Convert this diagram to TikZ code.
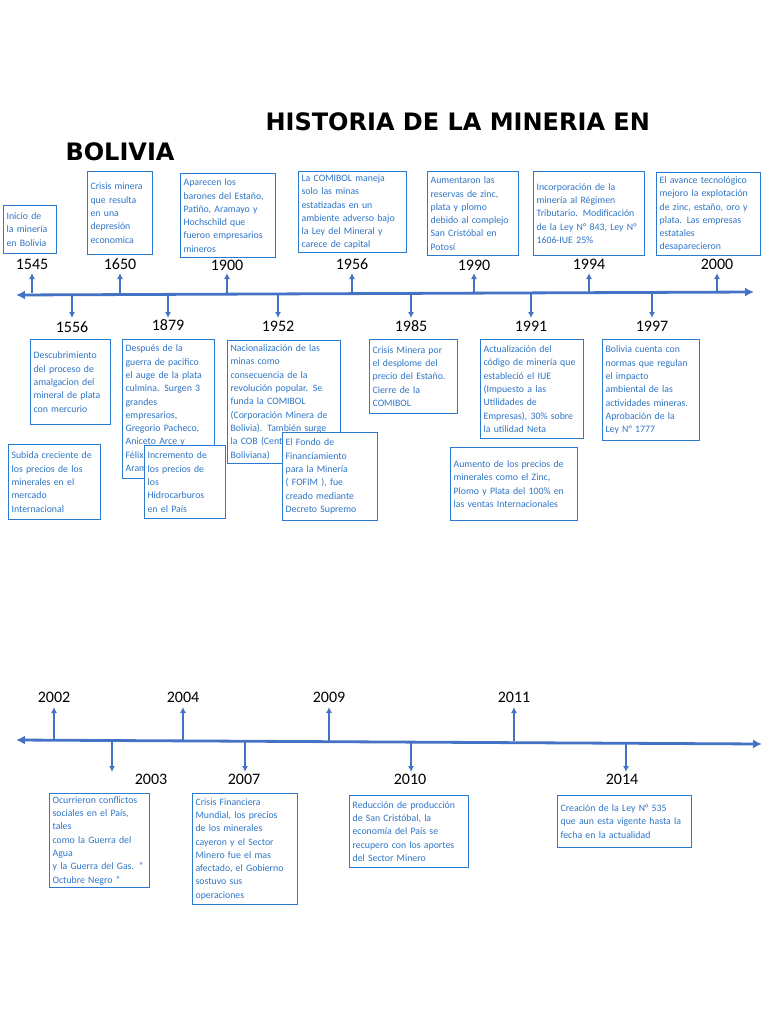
\documentclass[tikz,border=0pt]{standalone}
\usepackage{fontspec}
\setmainfont{Carlito}
\newfontfamily\titlefont{DejaVu Sans}
\usetikzlibrary{arrows.meta}
\definecolor{bxline}{HTML}{2A7BD0}
\definecolor{bxtext}{HTML}{2E75C6}
\definecolor{axis}{HTML}{4472C4}
\tikzset{
  bx/.style={draw=bxline,line width=1.2pt,fill=white,anchor=north west,align=left,
    inner sep=3pt,text=bxtext,font=\fontsize{9.8}{13.3}\selectfont,minimum height=#1},
  yr/.style={font=\fontsize{16}{16}\selectfont},
  tl/.style={draw=axis,line width=2.8pt,{Latex[length=9pt,width=9pt]}-{Latex[length=9pt,width=9pt]}},
  tk/.style={draw=axis,line width=1.5pt,-{Latex[length=6pt,width=6pt]}}
}
\begin{document}
\begin{tikzpicture}[x=1pt,y=-1pt]
\useasboundingbox (0,0) rectangle (768,1024);
\node[anchor=west,font=\titlefont\bfseries\fontsize{24}{24}\selectfont] (t1) at (262,122) {HISTORIA DE LA MINERIA EN};
\node[anchor=west,font=\titlefont\bfseries\fontsize{24}{24}\selectfont] (t2) at (62,152) {BOLIVIA};
% axis 1
\coordinate (a1l) at (16,295); \coordinate (a1r) at (754,292);
\draw[tl] (a1l) -- (a1r);
\foreach \x/\n/\yl in {32/1545/264,120/1650/264,227/1900/265,352/1956/264,474/1990/265,589/1994/264,717/2000/264}{
  \coordinate (u\n) at (\x,293); \coordinate (ue\n) at (\x,273);
  \draw[tk] (u\n) -- (ue\n);
  \node[yr] (ly\n) at (\x,\yl) {\n};}
\foreach \x/\n/\yl in {72/1556/327,168/1879/325,278/1952/326,411/1985/326,531/1991/326,652/1997/326}{
  \coordinate (d\n) at (\x,294); \coordinate (de\n) at (\x,318);
  \draw[tk] (d\n) -- (de\n);
  \node[yr] (ly\n) at (\x,\yl) {\n};}
% axis 2
\coordinate (a2l) at (16,740); \coordinate (a2r) at (762,744);
\draw[tl] (a2l) -- (a2r);
\foreach \x/\n in {54/2002,183/2004,329/2009,514/2011}{
  \coordinate (u\n) at (\x,741); \coordinate (ue\n) at (\x,707);
  \draw[tk] (u\n) -- (ue\n);
  \node[yr] (ly\n) at (\x,697) {\n};}
\foreach \x/\n in {112/2003,245/2007,411/2010,626/2014}{
  \coordinate (d\n) at (\x,742); \coordinate (de\n) at (\x,772);
  \draw[tk] (d\n) -- (de\n);}
\node[yr] (ly2003) at (151,779) {2003};
\node[yr] (ly2007) at (244,779) {2007};
\node[yr] (ly2010) at (410,779) {2010};
\node[yr] (ly2014) at (622,779) {2014};
% top boxes
\node[bx=48pt,text width=47pt] (b1545) at (3,205) {Inicio de\\la minería\\en Bolivia};
\node[bx=83pt,text width=59pt] (b1650) at (87,171) {Crisis minera\\que resulta\\en una\\depresión\\economica};
\node[bx=84pt,text width=89pt] (b1900) at (180,173) {Aparecen los\\barones del Estaño,\\Patiño, Aramayo y\\Hochschild que\\fueron empresarios\\mineros};
\node[bx=81pt,text width=102pt] (b1956) at (298,171) {La COMIBOL maneja\\solo las minas\\estatizadas en un\\ambiente adverso bajo\\la Ley del Mineral y\\carece de capital};
\node[bx=84pt,text width=85pt] (b1990) at (427,171) {Aumentaron las\\reservas de zinc,\\plata y plomo\\debido al complejo\\San Cristóbal en\\Potosí};
\node[bx=84pt,text width=105pt] (b1994) at (533,171) {Incorporación de la\\minería al Régimen\\Tributario. Modificación\\de la Ley N° 843, Ley N°\\1606-IUE 25\%};
\node[bx=83pt,text width=98pt] (b2000) at (656,172) {El avance tecnológico\\mejoro la explotación\\de zinc, estaño, oro y\\plata. Las empresas\\estatales\\desaparecieron};
% bottom boxes row 1
\node[bx=85pt,text width=74pt] (b1556) at (30,339) {Descubrimiento\\del proceso de\\amalgacion del\\mineral de plata\\con mercurio};
\node[bx=139pt,text width=86pt] (b1879) at (122,339) {Después de la\\guerra de pacifico\\el auge de la plata\\culmina. Surgen 3\\grandes\\empresarios,\\Gregorio Pacheco,\\Aniceto Arce y\\Félix Avelino\\Aramayo};
\node[bx=123pt,text width=107pt] (b1952) at (227,340) {Nacionalización de las\\minas como\\consecuencia de la\\revolución popular. Se\\funda la COMIBOL\\(Corporación Minera de\\Bolivia). También surge\\la COB (Central Obrera\\Boliviana)};
\node[bx=74pt,text width=82pt] (b1985) at (369,339) {Crisis Minera por\\el desplome del\\precio del Estaño.\\Cierre de la\\COMIBOL};
\node[bx=99pt,text width=97pt] (b1991) at (480,339) {Actualización del\\código de minería que\\estableció el IUE\\(Impuesto a las\\Utilidades de\\Empresas), 30\% sobre\\la utilidad Neta};
\node[bx=101pt,text width=91pt] (b1997) at (602,339) {Bolivia cuenta con\\normas que regulan\\el impacto\\ambiental de las\\actividades mineras.\\Aprobación de la\\Ley N° 1777};
% bottom boxes row 2
\node[bx=75pt,text width=86pt] (bsub) at (8,444) {Subida creciente de\\los precios de los\\minerales en el\\mercado\\Internacional};
\node[bx=73pt,text width=75pt] (binc) at (144,445) {Incremento de\\los precios de\\los\\Hidrocarburos\\en el País};
\node[bx=88pt,text width=89pt] (bfof) at (282,432) {El Fondo de\\Financiamiento\\para la Minería\\( FOFIM ), fue\\creado mediante\\Decreto Supremo};
\node[bx=73pt,text width=121pt] (baum) at (450,447) {Aumento de los precios de\\minerales como el Zinc,\\Plomo y Plata del 100\% en\\las ventas Internacionales};
% second timeline boxes
\node[bx=82pt,text width=94pt] (b2003) at (49,793) {Ocurrieron conflictos\\sociales en el País, tales\\como la Guerra del Agua\\y la Guerra del Gas. "\\Octubre Negro "};
\node[bx=111pt,text width=99pt] (b2007) at (192,793) {Crisis Financiera\\Mundial, los precios\\de los minerales\\cayeron y el Sector\\Minero fue el mas\\afectado, el Gobierno\\sostuvo sus\\operaciones};
\node[bx=72pt,text width=113pt] (b2010) at (349,795) {Reducción de producción\\de San Cristóbal, la\\economía del País se\\recupero con los aportes\\del Sector Minero};
\node[bx=52pt,text width=128pt] (b2014) at (557,795) {Creación de la Ley N° 535\\que aun esta vigente hasta la\\fecha en la actualidad};
\end{tikzpicture}
\end{document}
